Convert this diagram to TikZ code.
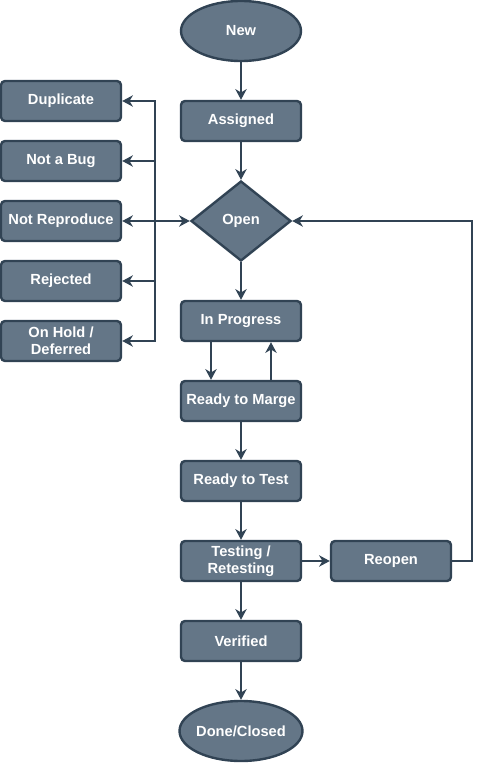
\documentclass[tikz,border=0pt]{standalone}
\usepackage{fontspec}
\setmainfont{Liberation Sans}
\usetikzlibrary{shapes.geometric,arrows.meta}
\definecolor{bugfill}{HTML}{647687}
\definecolor{bugline}{HTML}{314354}

\begin{document}
\begin{tikzpicture}[x=0.75pt, y=-0.75pt, node distance=60pt, color=bugline, line width=1.8pt,
        >={Stealth[length=8pt,width=8.5pt,inset=2.5pt]},
        base/.style={fill=bugfill, draw=bugline, text=white, align=center,
            font=\fontsize{11}{13}\selectfont\bfseries},
        state/.style={base, rectangle, rounded corners=3pt, minimum width=90pt, minimum height=30pt, inner sep=1pt},
        terminal/.style={base, ellipse, minimum width=90pt, minimum height=45pt, inner sep=-1pt},
        decision/.style={base, diamond, minimum width=75pt, minimum height=60pt, inner sep=0pt}]
        \useasboundingbox (0,0) rectangle (481,763);
        % main column
        \node[terminal] (new) at (241,31) {New};
        \node[state, below of=new, node distance=67.5pt] (assigned) {Assigned};
        \node[decision, below of=assigned, node distance=75pt] (open) {Open};
        \node[state, below of=open, node distance=75pt] (inprog) {In Progress};
        \node[state, below of=inprog] (marge) {Ready to Marge};
        \node[state, below of=marge] (rtest) {Ready to Test};
        \node[state, below of=rtest] (testing) {Testing /\\Retesting};
        \node[state, below of=testing] (verified) {Verified};
        \node[terminal, below of=verified, node distance=67.5pt] (done) {Done/Closed};
        \node[state, right of=testing, node distance=112.5pt] (reopen) {Reopen};
        % side states
        \node[state, left of=open, node distance=135pt] (notrep) {Not Reproduce};
        \node[state, above of=notrep, node distance=45pt] (notbug) {Not a Bug};
        \node[state, above of=notbug, node distance=45pt] (dup) {Duplicate};
        \node[state, below of=notrep, node distance=45pt] (rejected) {Rejected};
        \node[state, below of=rejected, node distance=45pt] (onhold) {On Hold /\\Deferred};
        \coordinate (hub) at ([xshift=-26.25pt]open.west);

        \draw[->] (new) -- (assigned);
        \draw[->] (assigned) -- (open);
        \draw[->] (open) -- (inprog);
        \draw[->] ([xshift=-22.5pt]inprog.south) -- ([xshift=-22.5pt]marge.north);
        \draw[->] ([xshift=22.5pt]marge.north) -- ([xshift=22.5pt]inprog.south);
        \draw[->] (marge) -- (rtest);
        \draw[->] (rtest) -- (testing);
        \draw[->] (testing) -- (verified);
        \draw[->] (verified) -- (done);
        \draw[->] (testing) -- (reopen);
        \draw[->] (reopen.east) -- ++(15pt,0) |- (open.east);
        % branch to the side states
        \draw[->] (hub) -- (open.west);
        \draw[->] (hub) -- (notrep.east);
        \draw[->] (hub) |- (notbug.east);
        \draw[->] (hub) |- (dup.east);
        \draw[->] (hub) |- (rejected.east);
        \draw[->] (hub) |- (onhold.east);
    \end{tikzpicture}
\end{document}
